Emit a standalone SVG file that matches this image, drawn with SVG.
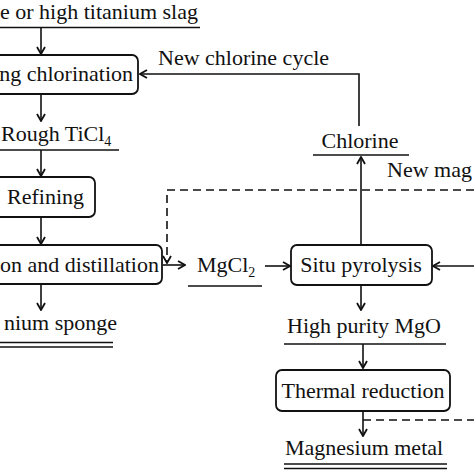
<svg xmlns="http://www.w3.org/2000/svg" width="474" height="474" viewBox="0 0 474 474" font-family="'Liberation Serif', 'Times New Roman', serif">
  <style>
    text { font-family: 'Liberation Serif', 'Times New Roman', serif; font-size: 22px; fill: #111; }
    .box { fill: #fff; stroke: #111; stroke-width: 1.8; }
    .ul { stroke: #111; stroke-width: 1.5; fill: none; }
    .ln { stroke: #111; stroke-width: 1.6; fill: none; }
    .dash { stroke: #111; stroke-width: 1.6; fill: none; stroke-dasharray: 8 5; }
  </style>
  <defs>
    <marker id="ah" viewBox="0 0 10 10" refX="9" refY="5" markerWidth="10" markerHeight="10" markerUnits="userSpaceOnUse" orient="auto">
      <path d="M2,1 L9,5 L2,9" fill="none" stroke="#111" stroke-width="1.8" stroke-linejoin="miter"/>
    </marker>
  </defs>
  <rect width="474" height="474" fill="#fff"/>

  <g id="connectors">
    <line class="ln" x1="41" y1="28" x2="41" y2="54" marker-end="url(#ah)"/>
    <line class="ln" x1="41" y1="95" x2="41" y2="121" marker-end="url(#ah)"/>
    <line class="ln" x1="41" y1="150" x2="41" y2="176" marker-end="url(#ah)"/>
    <line class="ln" x1="41" y1="218" x2="41" y2="244" marker-end="url(#ah)"/>
    <line class="ln" x1="41" y1="285" x2="41" y2="310" marker-end="url(#ah)"/>
    <polyline class="ln" points="359,126 359,74 140,74" marker-end="url(#ah)"/>
    <line class="ln" x1="361" y1="245" x2="361" y2="157" marker-end="url(#ah)"/>
    <polyline class="dash" points="474,190 167,190 167,263" marker-end="url(#ah)"/>
    <line class="ln" x1="163" y1="265" x2="185" y2="265" marker-end="url(#ah)"/>
    <line class="ln" x1="265" y1="266" x2="290" y2="266" marker-end="url(#ah)"/>
    <line class="ln" x1="474" y1="266" x2="433" y2="266" marker-end="url(#ah)"/>
    <line class="ln" x1="361" y1="286" x2="361" y2="310" marker-end="url(#ah)"/>
    <line class="ln" x1="363" y1="344" x2="363" y2="368" marker-end="url(#ah)"/>
    <line class="ln" x1="363" y1="412" x2="363" y2="436" marker-end="url(#ah)"/>
    <line class="dash" x1="363" y1="420" x2="474" y2="420"/>
  </g>

  <g id="raw-material">
    <text x="198" y="19" text-anchor="end" font-family="'Liberation Serif', serif">e or high titanium slag</text>
    <line class="ul" x1="0" y1="27.5" x2="200" y2="27.5"/>
  </g>

  <g id="chlorination">
    <rect class="box" x="-10" y="55" width="148" height="39" rx="6"/>
    <text x="133" y="81" text-anchor="end" font-family="'Liberation Serif', serif">ng chlorination</text>
  </g>

  <g id="new-chlorine-cycle">
    <text x="158" y="65" font-family="'Liberation Serif', serif">New chlorine cycle</text>
  </g>

  <g id="rough-ticl4">
    <text x="1" y="141" font-family="'Liberation Serif', serif">Rough TiCl<tspan font-size="14" dy="5">4</tspan></text>
    <line class="ul" x1="0" y1="150" x2="119" y2="150"/>
  </g>

  <g id="refining">
    <rect class="box" x="-10" y="177" width="105" height="40" rx="6"/>
    <text x="7" y="204" font-family="'Liberation Serif', serif">Refining</text>
  </g>

  <g id="reduction-distillation">
    <rect class="box" x="-10" y="245" width="172" height="39" rx="6"/>
    <text x="159" y="272" text-anchor="end" font-family="'Liberation Serif', serif">on and distillation</text>
  </g>

  <g id="titanium-sponge">
    <text x="117" y="330" text-anchor="end" font-family="'Liberation Serif', serif">nium sponge</text>
    <line class="ul" x1="0" y1="342.5" x2="113" y2="342.5"/>
    <line class="ul" x1="0" y1="347" x2="113" y2="347"/>
  </g>

  <g id="chlorine">
    <text x="360" y="148" text-anchor="middle" font-family="'Liberation Serif', serif">Chlorine</text>
    <line class="ul" x1="313" y1="155" x2="409" y2="155"/>
  </g>

  <g id="new-magnesium">
    <text x="387" y="177" font-family="'Liberation Serif', serif">New mag</text>
  </g>

  <g id="mgcl2">
    <text x="197" y="272" font-family="'Liberation Serif', serif">MgCl<tspan font-size="14" dy="5">2</tspan></text>
    <line class="ul" x1="188" y1="286" x2="262" y2="286"/>
  </g>

  <g id="situ-pyrolysis">
    <rect class="box" x="291" y="245" width="141" height="40" rx="6"/>
    <text x="361" y="272" text-anchor="middle" font-family="'Liberation Serif', serif">Situ pyrolysis</text>
  </g>

  <g id="high-purity-mgo">
    <text x="364" y="333" text-anchor="middle" font-family="'Liberation Serif', serif">High purity MgO</text>
    <line class="ul" x1="284" y1="344" x2="446" y2="344"/>
  </g>

  <g id="thermal-reduction">
    <rect class="box" x="276" y="370" width="174" height="41" rx="6"/>
    <text x="363" y="398" text-anchor="middle" font-family="'Liberation Serif', serif">Thermal reduction</text>
  </g>

  <g id="magnesium-metal">
    <text x="364" y="455" text-anchor="middle" font-family="'Liberation Serif', serif">Magnesium metal</text>
    <line class="ul" x1="284" y1="464" x2="447" y2="464"/>
    <line class="ul" x1="284" y1="468.5" x2="447" y2="468.5"/>
  </g>
</svg>
